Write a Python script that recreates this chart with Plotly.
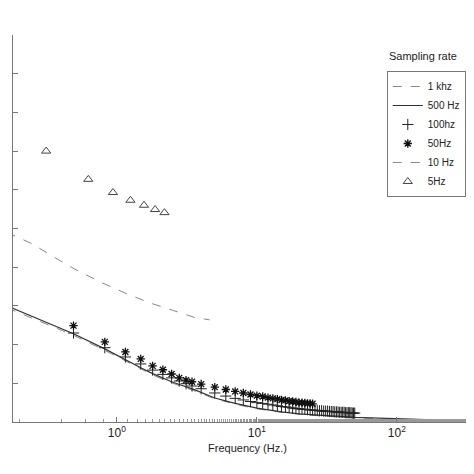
import plotly.graph_objects as go

line_f = [0.164,0.49,0.82,1.15,1.48,1.8,2.13,2.46,2.79,3.5,5,7,10,15,20,25,36,50,100,200,325,365]
line_500 = [3.0,2.28,1.89,1.6,1.4,1.25,1.13,1.04,0.97,0.85,0.62,0.48,0.36,0.26,0.21,0.18,0.15,0.12,0.08,0.05,0.03,0.03]
line_1k = [2.95,2.24,1.85,1.57,1.37,1.22,1.1,1.01,0.94,0.82,0.6,0.46,0.34,0.25,0.2,0.17,0.14,0.11,0.07,0.045,0.025,0.025]

f_100 = [0.164,0.49,0.82,1.15,1.48,1.8,2.13,2.46,2.79,3.12,3.44] + list(range(4,51))
y_100 = [3.1,2.3,1.92,1.68,1.5,1.34,1.23,1.14,1.06,0.99,0.93,
         0.86,0.75,0.67,0.61,0.57,0.53,0.5,0.48,0.46,0.44,0.42,0.4,0.39,0.38,0.36,0.35,0.34,0.33,0.33,0.32,0.31,0.31,0.30,0.30,0.29,0.29,0.28,
         0.28,0.28,0.27,0.27,0.27,0.26,0.26,0.26,0.25,0.25,0.25,0.25,0.24,0.24,0.24,0.24,0.24,0.23,0.23,0.23]

f_50 = [0.164,0.49,0.82,1.15,1.48,1.8,2.13,2.46,2.79,3.12,3.44] + list(range(4,26))
y_50 = [3.34,2.49,2.07,1.81,1.63,1.45,1.35,1.24,1.14,1.08,1.04,
        0.98,0.9,0.84,0.79,0.75,0.71,0.68,0.66,0.63,0.61,0.59,0.57,0.56,0.54,0.53,0.52,0.5,0.5,0.49,0.48,0.48,0.47]

f_10 = [0.164,0.25,0.34,0.5,0.78,1.2,1.78,2.4,2.9,3.6,4.6]
y_10 = [4.9,4.6,4.3,3.95,3.6,3.3,3.06,2.9,2.8,2.7,2.64]

f_5 = [0.3125,0.625,0.9375,1.25,1.5625,1.875,2.1875]
y_5 = [7.0,6.27,5.93,5.73,5.6,5.49,5.41]

fig = go.Figure()
fig.add_trace(go.Scatter(x=line_f, y=line_1k, mode="lines", name="1 khz", line=dict(color="#888", width=1, dash="dash")))
fig.add_trace(go.Scatter(x=line_f, y=line_500, mode="lines", name="500 Hz", line=dict(color="#333", width=1.2)))
fig.add_trace(go.Scatter(x=f_100, y=y_100, mode="markers", name="100hz", marker=dict(symbol="cross-thin", size=8, line=dict(color="#222", width=1))))
fig.add_trace(go.Scatter(x=f_50, y=y_50, mode="markers", name="50Hz", marker=dict(symbol="asterisk", size=7, line=dict(color="#111", width=1.3))))
fig.add_trace(go.Scatter(x=f_10, y=y_10, mode="lines", name="10 Hz", line=dict(color="#888", width=1, dash="dash")))
fig.add_trace(go.Scatter(x=f_5, y=y_5, mode="markers", name="5Hz", marker=dict(symbol="triangle-up-open", size=8, color="#444", line=dict(width=1))))

fig.update_layout(
    width=474, height=474, plot_bgcolor="white", paper_bgcolor="white",
    margin=dict(l=5, r=0, t=27, b=60),
    font=dict(family="Liberation Sans, Arial", size=11, color="#222"),
    xaxis=dict(type="log", range=[-0.742, 2.608], showline=True, linecolor="#777", linewidth=1,
               ticks="inside", ticklen=5, tickcolor="#777", showgrid=False, zeroline=False,
               tickvals=[1,10,100], ticktext=["10<sup>0</sup>","10<sup>1</sup>","10<sup>2</sup>"],
               tickfont=dict(size=12),
               minor=dict(ticks="inside", ticklen=3, tickcolor="#999", showgrid=False),
               title=dict(text="Frequency (Hz.)", font=dict(size=11), standoff=4)),
    yaxis=dict(range=[0, 10], dtick=1, showline=True, linecolor="#777", linewidth=1, ticks="inside",
               ticklen=5, tickcolor="#777", showticklabels=False, showgrid=False, zeroline=False),
    legend=dict(x=0.797, y=0.907, xanchor="left", yanchor="top", bordercolor="#777", borderwidth=1,
                font=dict(size=10), bgcolor="white", itemwidth=30, tracegroupgap=0),
    annotations=[dict(text="Sampling rate", x=0.797, y=0.946, xref="paper", yref="paper",
                      xanchor="left", yanchor="middle", showarrow=False, font=dict(size=11))],
)
fig.write_html("out.html")
